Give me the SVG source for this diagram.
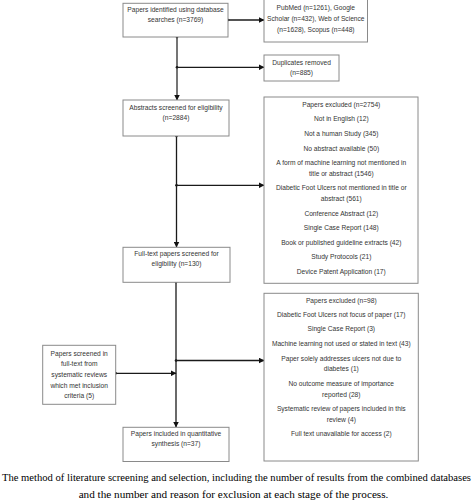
<svg xmlns="http://www.w3.org/2000/svg" width="474" height="501" viewBox="0 0 474 501">
<defs>
<style>
.box{fill:#fff;stroke:#8a8a8a;stroke-width:1}
.t{font-family:"Liberation Sans",Arial,sans-serif;font-size:6.65px;fill:#333;text-anchor:middle}
.cap{font-family:"Liberation Serif","Times New Roman",serif;font-size:11.2px;fill:#000}
.ln{fill:none;stroke:#1a1a1a;stroke-width:1.3}
.lg{fill:none;stroke:#666;stroke-width:1.8}
.dot{fill:#1a1a1a}
</style>
<marker id="ah" markerUnits="userSpaceOnUse" markerWidth="6" markerHeight="6" refX="5.5" refY="3" orient="auto">
<path d="M0,0 L6,3 L0,6 z" fill="#111"/>
</marker>
</defs>
<rect width="474" height="501" fill="#fff"/>

<g id="connectors">
<line class="ln" x1="228" y1="20" x2="264" y2="20" marker-end="url(#ah)"/>
<circle class="dot" cx="228" cy="20" r="1.3"/>
<line class="lg" x1="177" y1="37" x2="177" y2="100" marker-end="url(#ah)"/>
<circle class="dot" cx="177" cy="37" r="1.3"/>
<line class="ln" x1="177" y1="67.3" x2="264" y2="67.3" marker-end="url(#ah)"/>
<circle class="dot" cx="177" cy="67.3" r="1.3"/>
<line class="ln" x1="176.5" y1="136" x2="176.5" y2="247" marker-end="url(#ah)"/>
<circle class="dot" cx="176.5" cy="136" r="1.3"/>
<line class="ln" x1="176.5" y1="185.3" x2="264" y2="185.3" marker-end="url(#ah)"/>
<circle class="dot" cx="176.5" cy="185.3" r="1.3"/>
<line class="ln" x1="176" y1="282" x2="176" y2="427" marker-end="url(#ah)"/>
<circle class="dot" cx="176" cy="282" r="1.3"/>
<line class="ln" x1="176" y1="360.5" x2="264" y2="360.5" marker-end="url(#ah)"/>
<circle class="dot" cx="176" cy="360.5" r="1.3"/>
<line class="ln" x1="115.7" y1="373.3" x2="176" y2="373.3" marker-end="url(#ah)"/>
<circle class="dot" cx="115.7" cy="373.3" r="1.3"/>
</g>

<g id="identified">
<rect class="box" x="123" y="3.3" width="105" height="33.7"/>
<text class="t" x="175.5" y="11.8">Papers identified using database</text>
<text class="t" x="175.5" y="22.3">searches (n=3769)</text>
</g>

<g id="databases">
<rect class="box" x="264" y="-0.5" width="103.5" height="42.5"/>
<text class="t" x="315.8" y="9.5">PubMed (n=1261), Google</text>
<text class="t" x="315.8" y="20.5">Scholar (n=432), Web of Science</text>
<text class="t" x="315.8" y="31.5">(n=1628), Scopus (n=448)</text>
</g>

<g id="duplicates">
<rect class="box" x="264" y="55" width="75" height="26"/>
<text class="t" x="301.5" y="64.6">Duplicates removed</text>
<text class="t" x="301.5" y="75">(n=885)</text>
</g>

<g id="abstracts">
<rect class="box" x="123" y="100" width="106" height="36"/>
<text class="t" x="176" y="110">Abstracts screened for eligibility</text>
<text class="t" x="176" y="120.3">(n=2884)</text>
</g>

<g id="excluded1">
<rect class="box" x="264" y="97" width="154" height="186.3"/>
<text class="t" x="341.3" y="107">Papers excluded (n=2754)</text>
<text class="t" x="341.3" y="121.3">Not in English (12)</text>
<text class="t" x="341.3" y="135.6">Not a human Study (345)</text>
<text class="t" x="341.3" y="150.6">No abstract available (50)</text>
<text class="t" x="341.3" y="165">A form of machine learning not mentioned in</text>
<text class="t" x="341.3" y="176">title or abstract (1546)</text>
<text class="t" x="341.3" y="190">Diabetic Foot Ulcers not mentioned in title or</text>
<text class="t" x="341.3" y="201">abstract (561)</text>
<text class="t" x="341.3" y="215.6">Conference Abstract (12)</text>
<text class="t" x="341.3" y="230">Single Case Report (148)</text>
<text class="t" x="341.3" y="244.6">Book or published guideline extracts (42)</text>
<text class="t" x="341.3" y="259.3">Study Protocols (21)</text>
<text class="t" x="341.3" y="273.6">Device Patent Application (17)</text>
</g>

<g id="fulltext">
<rect class="box" x="123" y="247.3" width="107" height="35"/>
<text class="t" x="176.5" y="256">Full-text papers screened for</text>
<text class="t" x="176.5" y="266.3">eligibility (n=130)</text>
</g>

<g id="excluded2">
<rect class="box" x="264" y="293.3" width="154.3" height="167.7"/>
<text class="t" x="341.3" y="303">Papers excluded (n=98)</text>
<text class="t" x="341.3" y="317">Diabetic Foot Ulcers not focus of paper (17)</text>
<text class="t" x="341.3" y="331">Single Case Report (3)</text>
<text class="t" x="341.3" y="346">Machine learning not used or stated in text (43)</text>
<text class="t" x="341.3" y="360.6">Paper solely addresses ulcers not due to</text>
<text class="t" x="341.3" y="371.3">diabetes (1)</text>
<text class="t" x="341.3" y="385.6">No outcome measure of importance</text>
<text class="t" x="341.3" y="396.6">reported (28)</text>
<text class="t" x="341.3" y="411">Systematic review of papers included in this</text>
<text class="t" x="341.3" y="421.6">review (4)</text>
<text class="t" x="341.3" y="436">Full text unavailable for access (2)</text>
</g>

<g id="systematic">
<rect class="box" x="42.7" y="345.3" width="73" height="59"/>
<text class="t" x="79.2" y="355.6">Papers screened in</text>
<text class="t" x="79.2" y="366">full-text from</text>
<text class="t" x="79.2" y="377">systematic reviews</text>
<text class="t" x="79.2" y="388">which met inclusion</text>
<text class="t" x="79.2" y="398.3">criteria (5)</text>
</g>

<g id="included">
<rect class="box" x="123" y="427.3" width="106" height="34.2"/>
<text class="t" x="176" y="436">Papers included in quantitative</text>
<text class="t" x="176" y="446.3">synthesis (n=37)</text>
</g>

<g id="caption">
<text class="cap" x="2" y="481" style="font-size:10.6px" textLength="469" lengthAdjust="spacingAndGlyphs">The method of literature screening and selection, including the number of results from the combined databases</text>
<text class="cap" x="233.5" y="498" text-anchor="middle">and the number and reason for exclusion at each stage of the process.</text>
</g>
</svg>
